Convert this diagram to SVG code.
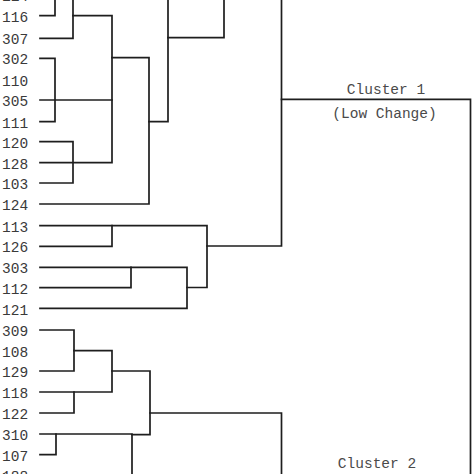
<svg xmlns="http://www.w3.org/2000/svg" width="474" height="474" viewBox="0 0 474 474">
<style>
.lbl{font-family:"Liberation Mono","DejaVu Sans Mono",monospace;font-size:14.5px;fill:#3a3a3a}
.cl{font-family:"Liberation Mono","DejaVu Sans Mono",monospace;font-size:14.5px;fill:#4a4a4a;text-anchor:middle}
.ln{fill:none;stroke:#1e1e1e;stroke-width:1.7;stroke-linecap:square}
</style>
<rect width="474" height="474" fill="#ffffff"/>
<g id="leaves">
<g id="n114"><text class="lbl" x="2" y="0.5">114</text></g>
<g id="n116"><text class="lbl" x="2" y="21.5">116</text></g>
<g id="n307"><text class="lbl" x="2" y="44">307</text></g>
<g id="n302"><text class="lbl" x="2" y="64">302</text></g>
<g id="n110"><text class="lbl" x="2" y="86">110</text></g>
<g id="n305"><text class="lbl" x="2" y="106">305</text></g>
<g id="n111"><text class="lbl" x="2" y="127.5">111</text></g>
<g id="n120"><text class="lbl" x="2" y="148">120</text></g>
<g id="n128"><text class="lbl" x="2" y="168.5">128</text></g>
<g id="n103"><text class="lbl" x="2" y="189">103</text></g>
<g id="n124"><text class="lbl" x="2" y="210">124</text></g>
<g id="n113"><text class="lbl" x="2" y="231.5">113</text></g>
<g id="n126"><text class="lbl" x="2" y="252">126</text></g>
<g id="n303"><text class="lbl" x="2" y="273">303</text></g>
<g id="n112"><text class="lbl" x="2" y="293.5">112</text></g>
<g id="n121"><text class="lbl" x="2" y="314.5">121</text></g>
<g id="n309"><text class="lbl" x="2" y="336">309</text></g>
<g id="n108"><text class="lbl" x="2" y="356.5">108</text></g>
<g id="n129"><text class="lbl" x="2" y="377">129</text></g>
<g id="n118"><text class="lbl" x="2" y="398">118</text></g>
<g id="n122"><text class="lbl" x="2" y="419">122</text></g>
<g id="n310"><text class="lbl" x="2" y="440">310</text></g>
<g id="n107"><text class="lbl" x="2" y="460.5">107</text></g>
<g id="n188"><text class="lbl" x="2" y="481">188</text></g>
</g>
<g id="cluster1"><text class="cl" x="386" y="94">Cluster 1</text><text class="cl" x="384.5" y="117.5">(Low Change)</text></g>
<g id="cluster2"><text class="cl" x="377" y="468">Cluster 2</text></g>
<g id="connectors">
<path class="ln" d="M40,15.7H55V-5"/>
<path class="ln" d="M40,38.3H73V-2"/>
<path class="ln" d="M73,15.7H112V162.7H40"/>
<path class="ln" d="M40,58.3H55V121.7H40"/>
<path class="ln" d="M40,100H112"/>
<path class="ln" d="M40,141.7H73V183H40"/>
<path class="ln" d="M112,57.7H149V204H40"/>
<path class="ln" d="M149,121.7H168V-2"/>
<path class="ln" d="M168,37.7H224V-2"/>
<path class="ln" d="M281.5,-2V246H207"/>
<path class="ln" d="M281.5,99.3H470.5V480"/>
<path class="ln" d="M40,225.7H207V287.5H187"/>
<path class="ln" d="M40,246.3H112V225.7"/>
<path class="ln" d="M40,267.3H187V308.3H40"/>
<path class="ln" d="M131,267.3V287.7H40"/>
<path class="ln" d="M40,330H74V371H40"/>
<path class="ln" d="M74,350.7H112V392H40"/>
<path class="ln" d="M40,413H74V392"/>
<path class="ln" d="M112,371H150V434.7H132"/>
<path class="ln" d="M150,413H281.5V480"/>
<path class="ln" d="M40,434H132V480"/>
<path class="ln" d="M56,434V454.7H40"/>
</g>
</svg>
